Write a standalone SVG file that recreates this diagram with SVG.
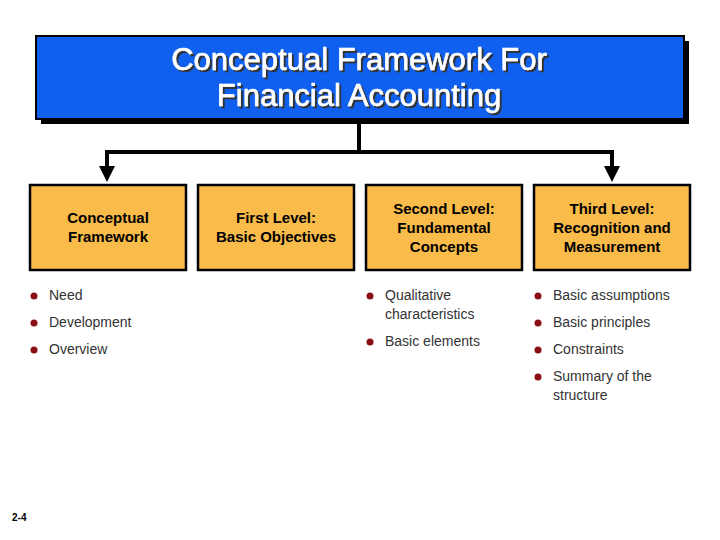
<svg xmlns="http://www.w3.org/2000/svg" width="720" height="540" viewBox="0 0 720 540">
<style>
.t{font-family:"Liberation Sans",Arial,sans-serif;}
.title{font-size:31px;fill:#fff;stroke:#fff;stroke-width:0.6;text-anchor:middle;}
.box{fill:#f9bb4a;stroke:#000;stroke-width:2.5;}
.bl{font-size:15px;font-weight:bold;fill:#000;text-anchor:middle;}
.it{font-size:14px;fill:#333;}
.dot{fill:#8b1016;}
.ln{stroke:#000;stroke-width:4;fill:none;}
</style>
<defs>
<marker id="ar" markerWidth="4" markerHeight="4" refX="2" refY="2" orient="auto" markerUnits="strokeWidth"><path d="M0,0L4,2L0,4z" fill="#000"/></marker>
<filter id="sh" x="-5%" y="-20%" width="110%" height="140%"><feDropShadow dx="2" dy="2" stdDeviation="0" flood-color="#333"/></filter>
</defs>
<rect width="720" height="540" fill="#fff"/>
<g id="title">
<rect x="41" y="41" width="648" height="83" fill="#000"/>
<rect x="36" y="36" width="648" height="83" fill="#1060f0" stroke="#000" stroke-width="2"/>
<g filter="url(#sh)">
<text class="t title" x="359" y="70">Conceptual Framework For</text>
<text class="t title" x="359" y="106">Financial Accounting</text>
</g>
</g>
<g id="connectors">
<path class="ln" d="M359,120V152M107,152H612"/>
<path class="ln" d="M107,150V174" marker-end="url(#ar)"/>
<path class="ln" d="M612,150V174" marker-end="url(#ar)"/>
</g>
<g id="n1"><rect class="box" x="30" y="185" width="156" height="85"/>
<text class="t bl" x="108" y="223">Conceptual</text><text class="t bl" x="108" y="242">Framework</text></g>
<g id="n2"><rect class="box" x="198" y="185" width="156" height="85"/>
<text class="t bl" x="276" y="223">First Level:</text><text class="t bl" x="276" y="242">Basic Objectives</text></g>
<g id="n3"><rect class="box" x="366" y="185" width="156" height="85"/>
<text class="t bl" x="444" y="214">Second Level:</text><text class="t bl" x="444" y="233">Fundamental</text><text class="t bl" x="444" y="252">Concepts</text></g>
<g id="n4"><rect class="box" x="534" y="185" width="156" height="85"/>
<text class="t bl" x="612" y="214">Third Level:</text><text class="t bl" x="612" y="233">Recognition and</text><text class="t bl" x="612" y="252">Measurement</text></g>
<g id="list1">
<circle class="dot" cx="34" cy="296" r="3.5"/><text class="t it" x="49" y="300">Need</text>
<circle class="dot" cx="34" cy="323" r="3.5"/><text class="t it" x="49" y="327">Development</text>
<circle class="dot" cx="34" cy="350" r="3.5"/><text class="t it" x="49" y="354">Overview</text>
</g>
<g id="list3">
<circle class="dot" cx="370" cy="296" r="3.5"/><text class="t it" x="385" y="300">Qualitative</text><text class="t it" x="385" y="319">characteristics</text>
<circle class="dot" cx="370" cy="342" r="3.5"/><text class="t it" x="385" y="346">Basic elements</text>
</g>
<g id="list4">
<circle class="dot" cx="538" cy="296" r="3.5"/><text class="t it" x="553" y="300">Basic assumptions</text>
<circle class="dot" cx="538" cy="323" r="3.5"/><text class="t it" x="553" y="327">Basic principles</text>
<circle class="dot" cx="538" cy="350" r="3.5"/><text class="t it" x="553" y="354">Constraints</text>
<circle class="dot" cx="538" cy="377" r="3.5"/><text class="t it" x="553" y="381">Summary of the</text><text class="t it" x="553" y="400">structure</text>
</g>
<text class="t" x="12" y="521" font-size="10" font-weight="bold" fill="#000">2-4</text>
</svg>
